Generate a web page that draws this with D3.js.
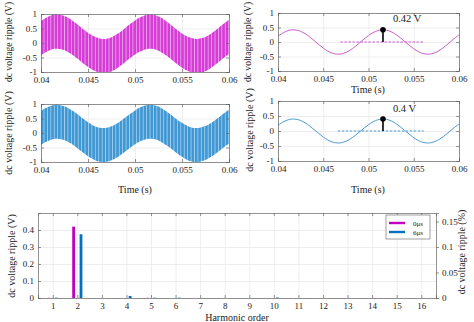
<!DOCTYPE html>
<html>
<head>
<meta charset="utf-8">
<script src="https://cdn.jsdelivr.net/npm/d3@7"></script>
<style>
  body { margin: 0; background: #fff; }
  svg { display: block; font-family: "Liberation Serif", "Times New Roman", serif; }
  .grid line { stroke: #e6e6e6; stroke-width: 0.7; }
  .grid path { display: none; }
  .axis path, .axis line { stroke: #666; stroke-width: 0.7; }
  .axis text { fill: #222; font-size: 9px; font-family: "Liberation Serif", serif; }
  .lbl { font-size: 10px; fill: #222; }
</style>
</head>
<body>
<svg id="fig" width="474" height="322"></svg>
<script>
// ---- data ----
var timeTicks = [0.04, 0.045, 0.05, 0.055, 0.06];
var rippleTicks = [-1, -0.5, 0, 0.5, 1];
var sampleTimes = d3.range(41).map(function (i) { return 0.04 + i * 0.0005; });

// 100 Hz component, 0 us dead time (peak 0.42 V)
var fund0 = [0.199, 0.304, 0.379, 0.417, 0.412, 0.367, 0.285, 0.174, 0.047, -0.086, -0.210, -0.313, -0.385, -0.418, -0.410, -0.360, -0.275, -0.162, -0.033, 0.099, 0.221, 0.322, 0.390, 0.419, 0.407, 0.354, 0.265, 0.150, 0.020, -0.111, -0.233, -0.331, -0.395, -0.420, -0.402, -0.346, -0.256, -0.138, -0.007, 0.124, 0.243];
// 100 Hz component, 6 us dead time (peak 0.4 V)
var fund6 = [0.190, 0.289, 0.361, 0.397, 0.392, 0.349, 0.271, 0.166, 0.045, -0.082, -0.200, -0.298, -0.367, -0.398, -0.390, -0.343, -0.262, -0.154, -0.031, 0.094, 0.210, 0.307, 0.371, 0.399, 0.388, 0.337, 0.252, 0.143, 0.019, -0.106, -0.222, -0.315, -0.376, -0.400, -0.383, -0.329, -0.244, -0.131, -0.007, 0.118, 0.231];

// envelopes of the full (switching) ripple
var upper0 = [0.76, 0.86, 0.94, 0.98, 0.97, 0.93, 0.85, 0.73, 0.61, 0.47, 0.35, 0.25, 0.18, 0.14, 0.15, 0.20, 0.29, 0.40, 0.53, 0.66, 0.78, 0.88, 0.95, 0.98, 0.97, 0.91, 0.83, 0.71, 0.58, 0.45, 0.33, 0.23, 0.17, 0.14, 0.16, 0.21, 0.30, 0.42, 0.55, 0.68, 0.80];
var lower0 = [-0.42, -0.32, -0.24, -0.20, -0.21, -0.25, -0.34, -0.45, -0.57, -0.71, -0.83, -0.93, -1.0, -1.04, -1.03, -0.98, -0.90, -0.78, -0.65, -0.52, -0.40, -0.30, -0.23, -0.20, -0.21, -0.27, -0.36, -0.47, -0.60, -0.73, -0.85, -0.95, -1.01, -1.04, -1.02, -0.97, -0.88, -0.76, -0.63, -0.50, -0.38];
var upper6 = [0.76, 0.86, 0.93, 0.97, 0.96, 0.92, 0.84, 0.74, 0.62, 0.49, 0.37, 0.27, 0.20, 0.17, 0.18, 0.23, 0.31, 0.42, 0.54, 0.66, 0.78, 0.88, 0.94, 0.97, 0.96, 0.91, 0.82, 0.71, 0.59, 0.46, 0.35, 0.26, 0.19, 0.17, 0.19, 0.24, 0.33, 0.44, 0.56, 0.69, 0.80];
var lower6 = [-0.41, -0.31, -0.24, -0.20, -0.21, -0.25, -0.33, -0.43, -0.56, -0.68, -0.80, -0.90, -0.97, -1.0, -0.99, -0.94, -0.86, -0.75, -0.63, -0.51, -0.39, -0.29, -0.23, -0.20, -0.21, -0.26, -0.35, -0.46, -0.58, -0.71, -0.82, -0.92, -0.98, -1.0, -0.98, -0.93, -0.84, -0.73, -0.61, -0.48, -0.37];

// dashed zero line and peak marker
var zeroSpan0 = [0.0469, 0.0561];
var zeroSpan6 = [0.0466, 0.0561];
var peakTime = 0.0516;
var peak0 = 0.42, peak6 = 0.4;

// harmonic spectrum
var harmonics = d3.range(1, 17);
var harmonicTicks = d3.range(1, 17);
var spec0 = [0.001, 0.42, 0, 0, 0.001, 0, 0, 0, 0, 0, 0, 0, 0, 0, 0, 0];
var spec6 = [0.002, 0.375, 0, 0.012, 0.002, 0.002, 0, 0, 0, 0.003, 0, 0, 0, 0, 0, 0];
var voltTicks = [0, 0.1, 0.2, 0.3, 0.4];
var pctTicks = [0, 0.05, 0.1, 0.15];
var seriesNames = ['0\u03bcs', '6\u03bcs'];

// ---- drawing ----
var svg = d3.select('#fig');
var defs = svg.append('defs');
var fmt = function (d) { return String(d); };

function stripes(id, dark, light) {
  var p = defs.append('pattern').attr('id', id)
    .attr('patternUnits', 'userSpaceOnUse').attr('width', 3.42).attr('height', 10);
  p.append('rect').attr('width', 3.42).attr('height', 10).attr('fill', light);
  p.append('rect').attr('width', 2.6).attr('height', 10).attr('fill', dark);
}
stripes('stripeM', '#d63cd6', '#eeaaee');
stripes('stripeB', '#3f98d4', '#a9d2ee');

function frame(g, x, y, xt, yt, w, h) {
  g.append('g').attr('class', 'grid').attr('transform', 'translate(0,' + h + ')')
    .call(d3.axisBottom(x).tickValues(xt).tickSize(-h).tickFormat(''));
  g.append('g').attr('class', 'grid')
    .call(d3.axisLeft(y).tickValues(yt).tickSize(-w).tickFormat(''));
}

function box(g, x, y, xt, yt, w, h, showRight) {
  g.append('g').attr('class', 'axis').attr('transform', 'translate(0,' + h + ')')
    .call(d3.axisBottom(x).tickValues(xt).tickSize(-3).tickPadding(5).tickFormat(fmt));
  g.append('g').attr('class', 'axis')
    .call(d3.axisTop(x).tickValues(xt).tickSize(-3).tickFormat(''));
  g.append('g').attr('class', 'axis')
    .call(d3.axisLeft(y).tickValues(yt).tickSize(-3).tickPadding(4).tickFormat(fmt));
  if (showRight !== false) {
    g.append('g').attr('class', 'axis').attr('transform', 'translate(' + w + ',0)')
      .call(d3.axisRight(y).tickValues(yt).tickSize(-3).tickFormat(''));
  }
}

function yLabel(x, y, text, size) {
  svg.append('text').attr('class', 'lbl').attr('text-anchor', 'middle')
    .style('font-size', (size || 10) + 'px')
    .attr('transform', 'translate(' + x + ',' + y + ') rotate(-90)').text(text);
}

function xLabel(x, y, text) {
  svg.append('text').attr('class', 'lbl').attr('text-anchor', 'middle')
    .attr('x', x).attr('y', y).text(text);
}

var clipN = 0;
function timePanel(x0, y0, x1, y1) {
  var w = x1 - x0, h = y1 - y0;
  var g = svg.append('g').attr('transform', 'translate(' + x0 + ',' + y0 + ')');
  var x = d3.scaleLinear().domain([0.04, 0.06]).range([0, w]);
  var y = d3.scaleLinear().domain([-1, 1]).range([h, 0]);
  frame(g, x, y, timeTicks, rippleTicks, w, h);
  var id = 'clip' + (clipN++);
  defs.append('clipPath').attr('id', id).append('rect').attr('width', w).attr('height', h);
  var plot = g.append('g').attr('clip-path', 'url(#' + id + ')');
  box(g, x, y, timeTicks, rippleTicks, w, h);
  return { g: g, plot: plot, x: x, y: y, w: w, h: h };
}

function bandPanel(p, upper, lower, fill) {
  var area = d3.area()
    .x(function (d, i) { return p.x(sampleTimes[i]); })
    .y0(function (d, i) { return p.y(lower[i]); })
    .y1(function (d) { return p.y(d); })
    .curve(d3.curveMonotoneX);
  p.plot.append('path').datum(upper).attr('d', area).attr('fill', fill);
}

function sinePanel(p, fund, color, span, peak, label, dy) {
  var line = d3.line()
    .x(function (d, i) { return p.x(sampleTimes[i]); })
    .y(function (d) { return p.y(d); })
    .curve(d3.curveCardinal);
  p.plot.append('path').datum(fund).attr('d', line)
    .attr('fill', 'none').attr('stroke', color).attr('stroke-width', 1);
  p.plot.append('line')
    .attr('x1', p.x(span[0])).attr('x2', p.x(span[1]))
    .attr('y1', p.y(0)).attr('y2', p.y(0))
    .attr('stroke', color).attr('stroke-width', 1).attr('stroke-dasharray', '2.5,1.5');
  p.plot.append('line')
    .attr('x1', p.x(peakTime)).attr('x2', p.x(peakTime))
    .attr('y1', p.y(0)).attr('y2', p.y(peak))
    .attr('stroke', '#000').attr('stroke-width', 1.6);
  p.plot.append('circle').attr('cx', p.x(peakTime)).attr('cy', p.y(peak))
    .attr('r', 2.8).attr('fill', '#000');
  p.g.append('text').attr('class', 'lbl').attr('x', p.x(peakTime) + 10).attr('y', p.y(peak) + dy)
    .style('font-size', '10.5px').text(label);
}

// top-left: 0 us, full ripple
var pA = timePanel(41, 14, 229, 72);
bandPanel(pA, upper0, lower0, 'url(#stripeM)');
yLabel(12, 42, 'dc voltage ripple (V)', 9.6);

// top-right: 0 us, 100 Hz component
var pB = timePanel(278, 13, 459, 71);
sinePanel(pB, fund0, '#c95ec9', zeroSpan0, peak0, peak0 + ' V', -8);
yLabel(251, 42, 'dc voltage ripple (V)', 9.6);
xLabel(368, 93, 'Time (s)');

// middle-left: 6 us, full ripple
var pC = timePanel(41, 104, 229, 162);
bandPanel(pC, upper6, lower6, 'url(#stripeB)');
yLabel(12, 133, 'dc voltage ripple (V)');
xLabel(135, 193, 'Time (s)');

// middle-right: 6 us, 100 Hz component
var pD = timePanel(278, 101, 459, 161);
sinePanel(pD, fund6, '#4a9bd2', zeroSpan6, peak6, peak6 + ' V', -7);
yLabel(253, 130, 'dc voltage ripple (V)');
xLabel(368, 193, 'Time (s)');

// bottom: harmonic spectrum
(function () {
  var x0 = 38, y0 = 213, x1 = 436, y1 = 298;
  var w = x1 - x0, h = y1 - y0;
  var g = svg.append('g').attr('transform', 'translate(' + x0 + ',' + y0 + ')');
  var x = d3.scaleLinear().domain([0.4, 16.6]).range([0, w]);
  var y = d3.scaleLinear().domain([0, 0.5]).range([h, 0]);
  var yR = d3.scaleLinear().domain([0, 0.5 / 3]).range([h, 0]);
  frame(g, x, y, harmonicTicks, voltTicks, w, h);

  var bw = 2.8;
  g.selectAll('.b0').data(spec0).enter().append('rect')
    .attr('x', function (d, i) { return x(harmonics[i] - 0.15) - bw / 2; })
    .attr('y', function (d) { return y(d); })
    .attr('width', bw).attr('height', function (d) { return h - y(d); })
    .attr('fill', '#bf00bf');
  g.selectAll('.b6').data(spec6).enter().append('rect')
    .attr('x', function (d, i) { return x(harmonics[i] + 0.15) - bw / 2; })
    .attr('y', function (d) { return y(d); })
    .attr('width', bw).attr('height', function (d) { return h - y(d); })
    .attr('fill', '#0072bd');

  box(g, x, y, harmonicTicks, voltTicks, w, h, false);
  g.append('g').attr('class', 'axis').attr('transform', 'translate(' + w + ',0)')
    .call(d3.axisRight(yR).tickValues(pctTicks).tickSize(3).tickPadding(3).tickFormat(fmt));

  // legend
  var lg = g.append('g').attr('transform', 'translate(' + (386 - x0) + ',' + (215 - y0) + ')');
  lg.append('rect').attr('width', 44).attr('height', 24)
    .attr('fill', '#fff').attr('stroke', '#777').attr('stroke-width', 0.7);
  var lc = ['#bf00bf', '#0072bd'];
  seriesNames.forEach(function (n, i) {
    lg.append('line').attr('x1', 3).attr('x2', 19).attr('y1', 8 + i * 9).attr('y2', 8 + i * 9)
      .attr('stroke', lc[i]).attr('stroke-width', 2.4);
    lg.append('text').attr('x', 27).attr('y', 10.5 + i * 9)
      .style('font-size', '7px').attr('fill', '#222').text(n);
  });

  yLabel(15, 256, 'dc voltage ripple (V)');
  yLabel(465, 252, 'dc voltage ripple (%)');
  xLabel(237, 321, 'Harmonic order');
})();
</script>
</body>
</html>
